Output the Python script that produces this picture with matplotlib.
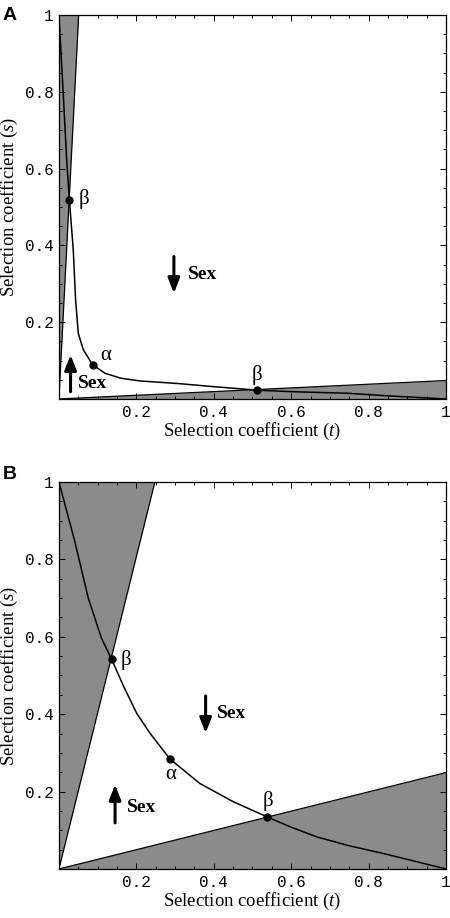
import matplotlib
matplotlib.use("Agg")
import matplotlib.pyplot as plt
import numpy as np
from matplotlib.ticker import MultipleLocator, FixedLocator, FixedFormatter

# panel A: boundary curve (t, s)
curveA_t = [0.0, 0.011, 0.020, 0.027, 0.037, 0.043, 0.050, 0.063, 0.087, 0.119, 0.160,
            0.209, 0.310, 0.400, 0.511, 0.600, 0.743, 0.870, 1.0]
curveA_s = [1.0, 0.796, 0.622, 0.518, 0.388, 0.258, 0.171, 0.128, 0.089, 0.067, 0.054,
            0.047, 0.040, 0.032, 0.023, 0.019, 0.015, 0.007, 0.0]
# shaded wedge edges (t at s=1 for the left one, s at t=1 for the bottom one)
wedgeA_top_t = 0.051
wedgeA_right_s = 0.048
dotsA_t = [0.027, 0.087, 0.511]
dotsA_s = [0.518, 0.089, 0.023]

# panel B
curveB_t = [0.0, 0.041, 0.076, 0.110, 0.136, 0.168, 0.201, 0.235, 0.287, 0.364, 0.450,
            0.537, 0.600, 0.666, 0.750, 0.838, 0.920, 1.0]
curveB_s = [1.0, 0.846, 0.699, 0.596, 0.542, 0.470, 0.402, 0.351, 0.284, 0.221, 0.174,
            0.135, 0.108, 0.083, 0.060, 0.040, 0.020, 0.0]
wedgeB_top_t = 0.248
wedgeB_right_s = 0.249
dotsB_t = [0.136, 0.287, 0.537]
dotsB_s = [0.542, 0.284, 0.135]

ticks = [0.2, 0.4, 0.6, 0.8, 1.0]
tick_labels = ["0.2", "0.4", "0.6", "0.8", "1"]

gray = "#8b8b8b"
serif = ["Liberation Serif", "DejaVu Serif"]
mono = ["Liberation Mono", "DejaVu Sans Mono"]

plt.rcParams["mathtext.fontset"] = "custom"
plt.rcParams["mathtext.it"] = "Liberation Serif:italic"
plt.rcParams["mathtext.rm"] = "Liberation Serif"

fig = plt.figure(figsize=(4.5, 9.18), dpi=100)
axA = fig.add_axes([0.131, 0.5654, 0.860, 0.4183])
axB = fig.add_axes([0.131, 0.0534, 0.860, 0.4216])


def draw_panel(ax, ct, cs, top_t, right_s, dt, ds, labels, arrows):
    ax.fill([0, 0, top_t], [0, 1, 1], color=gray, lw=0, zorder=1)
    ax.fill([0, 1, 1], [0, 0, right_s], color=gray, lw=0, zorder=1)
    ax.plot([0, top_t], [0, 1], color="black", lw=0.9, zorder=2)
    ax.plot([0, 1], [0, right_s], color="black", lw=0.9, zorder=2)
    ax.plot(ct, cs, color="black", lw=1.1, zorder=3)
    ax.plot(dt, ds, "o", color="black", ms=5, zorder=4)
    for (x, y, txt) in labels:
        ax.text(x, y, txt, fontsize=15, family=serif, ha="left", va="center")
    for (x, y0, y1, tx, ty) in arrows:
        ax.annotate("", xy=(x, y1), xytext=(x, y0),
                    arrowprops=dict(arrowstyle="-|>,head_length=0.9,head_width=0.35",
                                    color="black", lw=2.2, shrinkA=0, shrinkB=0))
        ax.text(tx, ty, "Sex", fontsize=14, family=serif, fontweight="bold",
                ha="left", va="center")

    ax.set_xlim(0, 1)
    ax.set_ylim(0, 1)
    ax.xaxis.set_major_locator(FixedLocator(ticks))
    ax.xaxis.set_major_formatter(FixedFormatter(tick_labels))
    ax.yaxis.set_major_locator(FixedLocator(ticks))
    ax.yaxis.set_major_formatter(FixedFormatter(tick_labels))
    ax.xaxis.set_minor_locator(MultipleLocator(0.05))
    ax.yaxis.set_minor_locator(MultipleLocator(0.05))
    ax.tick_params(which="both", direction="in", top=True, right=True, width=0.7, pad=4)
    ax.tick_params(which="major", length=4)
    ax.tick_params(which="minor", length=2)
    for lab in ax.get_xticklabels() + ax.get_yticklabels():
        lab.set_family(mono)
        lab.set_fontsize(11.5)
    for sp in ax.spines.values():
        sp.set_linewidth(0.9)
    ax.set_xlabel("Selection coefficient ($\\mathit{t}$)", fontsize=13.5, family=serif, labelpad=1)
    ax.set_ylabel("Selection coefficient ($\\mathit{s}$)", fontsize=13.5, family=serif, labelpad=3)


draw_panel(axA, curveA_t, curveA_s, wedgeA_top_t, wedgeA_right_s, dotsA_t, dotsA_s,
           [(0.052, 0.52, "β"), (0.108, 0.112, "α"), (0.497, 0.063, "β")],
           [(0.297, 0.371, 0.275, 0.334, 0.323), (0.030, 0.019, 0.115, 0.05, 0.039)])
draw_panel(axB, curveB_t, curveB_s, wedgeB_top_t, wedgeB_right_s, dotsB_t, dotsB_s,
           [(0.16, 0.54, "β"), (0.274, 0.243, "α"), (0.525, 0.175, "β")],
           [(0.379, 0.447, 0.351, 0.407, 0.401), (0.145, 0.119, 0.218, 0.176, 0.160)])

fig.text(0.005, 0.983, "A", fontsize=14, fontweight="bold", family="Liberation Sans", va="center")
fig.text(0.005, 0.483, "B", fontsize=14, fontweight="bold", family="Liberation Sans", va="center")

fig.savefig("out.png", dpi=100)
